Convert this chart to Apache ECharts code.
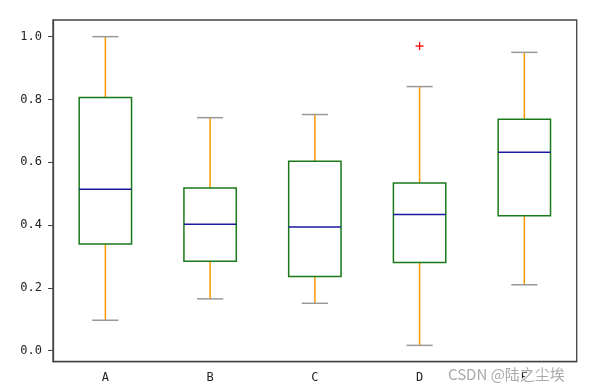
<!DOCTYPE html>
<html>
<head>
<meta charset="utf-8">
<script src="https://cdn.jsdelivr.net/npm/echarts@6/dist/echarts.min.js"></script>
<style>html,body{margin:0;padding:0;background:#fff}#c{width:600px;height:392px}</style>
</head>
<body>
<div id="c"></div>
<script>
var categories = ['A', 'B', 'C', 'D', 'E'];
var lowWhisker = [0.097, 0.165, 0.151, 0.017, 0.210];
var q1 = [0.340, 0.285, 0.236, 0.281, 0.430];
var median = [0.514, 0.403, 0.394, 0.434, 0.632];
var q3 = [0.806, 0.518, 0.603, 0.534, 0.737];
var highWhisker = [1.000, 0.742, 0.752, 0.841, 0.950];
var outlierCat = [3];
var outlierVal = [0.970];
var yTicks = [0.0, 0.2, 0.4, 0.6, 0.8, 1.0];

var boxData = categories.map(function (c, i) {
  return [i, lowWhisker[i], q1[i], median[i], q3[i], highWhisker[i]];
});
var outData = outlierCat.map(function (c, i) { return [c, outlierVal[i]]; });

var chart = echarts.init(document.getElementById('c'), null, {renderer: 'canvas'});
var labelFont = {color: '#222', fontSize: 12, fontFamily: '"DejaVu Sans Mono", monospace'};
chart.setOption({
  animation: false,
  backgroundColor: '#fff',
  grid: {left: 53, top: 20, right: 23.3, bottom: 30.3, show: true, borderColor: '#444', borderWidth: 1.3, backgroundColor: 'transparent'},
  xAxis: {
    type: 'category', data: categories, boundaryGap: true,
    axisLine: {onZero: false, lineStyle: {color: '#444', width: 1.3}},
    axisTick: {alignWithLabel: true, length: 5, lineStyle: {color: '#444'}},
    axisLabel: Object.assign({margin: 10}, labelFont),
    splitLine: {show: false}
  },
  yAxis: {
    type: 'value', min: -0.035, max: 1.053,
    axisLine: {show: true, onZero: false, lineStyle: {color: '#444', width: 1.3}},
    axisTick: {show: true, length: 5, lineStyle: {color: '#444'}, customValues: yTicks},
    axisLabel: Object.assign({margin: 11, customValues: yTicks, formatter: function (v) {
      return Number(v).toFixed(1);
    }}, labelFont),
    splitLine: {show: false}
  },
  series: [{
    type: 'custom',
    data: boxData,
    encode: {x: 0, y: [1, 2, 3, 4, 5]},
    renderItem: function (params, api) {
      var x = api.value(0);
      var band = api.size([1, 0])[0];
      var hw = band / 4, cw = band / 8;
      var pLo = api.coord([x, api.value(1)]);
      var pQ1 = api.coord([x, api.value(2)]);
      var pMed = api.coord([x, api.value(3)]);
      var pQ3 = api.coord([x, api.value(4)]);
      var pHi = api.coord([x, api.value(5)]);
      var cx = pLo[0];
      var orange = {stroke: '#ff9900', lineWidth: 1.5};
      var gray = {stroke: '#999', lineWidth: 1.5};
      return {type: 'group', children: [
        {type: 'line', shape: {x1: cx, y1: pQ1[1], x2: cx, y2: pLo[1]}, style: orange},
        {type: 'line', shape: {x1: cx, y1: pQ3[1], x2: cx, y2: pHi[1]}, style: orange},
        {type: 'line', shape: {x1: cx - cw, y1: pLo[1], x2: cx + cw, y2: pLo[1]}, style: gray},
        {type: 'line', shape: {x1: cx - cw, y1: pHi[1], x2: cx + cw, y2: pHi[1]}, style: gray},
        {type: 'rect', shape: {x: cx - hw, y: pQ3[1], width: 2 * hw, height: pQ1[1] - pQ3[1]}, style: {fill: 'none', stroke: '#1a7a1a', lineWidth: 1.5}},
        {type: 'line', shape: {x1: cx - hw, y1: pMed[1], x2: cx + hw, y2: pMed[1]}, style: {stroke: '#1a1aa0', lineWidth: 1.5}}
      ]};
    }
  }, {
    type: 'custom',
    data: outData,
    encode: {x: 0, y: 1},
    renderItem: function (params, api) {
      var p = api.coord([api.value(0), api.value(1)]);
      var s = 4;
      var st = {stroke: '#ff0000', lineWidth: 1.3};
      return {type: 'group', children: [
        {type: 'line', shape: {x1: p[0] - s, y1: p[1], x2: p[0] + s, y2: p[1]}, style: st},
        {type: 'line', shape: {x1: p[0], y1: p[1] - s, x2: p[0], y2: p[1] + s}, style: st}
      ]};
    }
  }],
  graphic: [{
    type: 'text', left: 447, top: 366, z: 100,
    style: {text: 'CSDN @陆之尘埃', fill: '#aaa', fontSize: 15, fontFamily: '"Noto Sans CJK SC", sans-serif', stroke: '#fff', lineWidth: 2}
  }]
});
</script>
</body>
</html>
